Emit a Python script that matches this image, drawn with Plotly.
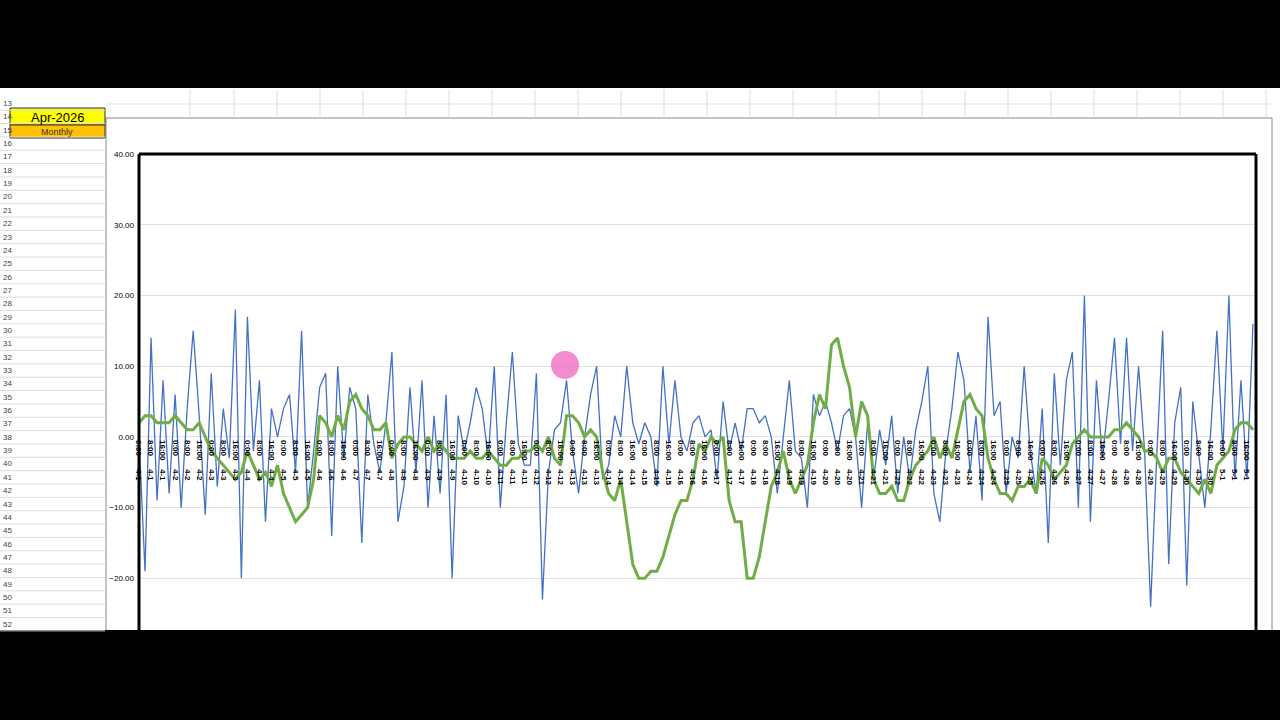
import plotly.graph_objects as go

days = [f"4-{d}" for d in range(1, 31)] + ["5-1"]
blue_by_day = [
 [0,-19,14,-9,8,-8],[6,-10,4,15,3,-11],[9,-7,4,-3,18,-20],[17,-2,8,-12,4,0],
 [4,6,-5,15,-10,-2],[7,9,-14,10,-3,7],[4,-15,6,-1,-5,2],[12,-12,-7,7,-5,8],
 [-10,3,-8,6,-20,3],[-2,2,7,4,-3,10],[-10,2,12,-1,-4,-4],[9,-23,-5,1,2,8],
 [-2,-8,0,6,10,-6],[-4,3,0,10,2,-1],[2,0,-7,10,-1,8],[0,-2,2,3,0,1],
 [-6,5,-2,2,-2,4],[4,2,3,0,-8,0],[8,-2,-3,-10,6,3],[5,2,-2,3,4,0],
 [-10,2,-6,1,-4,3],[-8,0,-6,1,5,10],[-8,-12,-2,4,12,8],[-5,3,-9,17,3,5],
 [-8,0,-3,10,-2,-8],[4,-15,9,-4,8,12],[-10,20,-12,8,-3,5],[14,-1,14,-2,10,-2],
 [-24,-3,15,-18,2,7],[-21,5,-3,-10,1,15],[-2,20,-6,8,-6,16]]
green_by_day = [
 [2,3,3,2,2,2],[3,2,1,1,2,0],[-2,-3,-4,-5,-6,-5],[-2,-4,-6,-5,-7,-4],
 [-8,-10,-12,-11,-10,-6],[3,2,0,3,1,5],[6,4,3,1,1,2],[-3,-1,0,0,-1,-2],
 [0,-2,-1,-2,-3,-3],[-3,-2,-3,-3,-2,-3],[-4,-4,-3,-3,-2,-2],[-1,-2,0,-3,-4,3],
 [3,2,0,1,0,-5],[-8,-9,-6,-12,-18,-20],[-20,-19,-19,-17,-14,-11],[-9,-9,-6,-1,-2,0],
 [-1,0,-9,-12,-12,-20],[-20,-17,-12,-7,-5,-2],[-6,-8,-6,-4,2,6],[4,13,14,10,7,0],
 [5,3,-6,-8,-8,-7],[-9,-9,-6,-4,-3,-2],[0,-3,-1,-3,1,5],[6,4,3,-3,-6,-8],
 [-8,-9,-7,-7,-6,-8],[-3,-4,-6,-5,-4,-1],[0,1,0,0,0,0],[1,1,2,1,0,-2],
 [-2,-3,-5,-3,-3,-5],[-6,-7,-8,-6,-8,-4],[-3,-2,1,2,2,1]]
hours_of_day = ["0:00", "8:00", "16:00"]

blue = [v for d in blue_by_day for v in d]
green = [v for d in green_by_day for v in d]
hrs = [4 * i for i in range(len(blue))]
tickvals = [24 * i + 8 * j for i in range(len(days)) for j in range(3)]
time_text = [hours_of_day[j] for i in range(len(days)) for j in range(3)]
date_text = [days[i] for i in range(len(days)) for j in range(3)]

W, H = 1280, 720
L, R, T, B = 139, 1256, 154, 630
px = lambda x: (x - L) / (R - L)
py = lambda y: (B - y) / (B - T)

fig = go.Figure()
fig.add_trace(go.Scatter(x=hrs, y=blue, mode="lines", line=dict(color="#4472C4", width=1.3)))
fig.add_trace(go.Scatter(x=hrs, y=green, mode="lines", line=dict(color="#70AD47", width=3)))
fig.add_trace(go.Scatter(x=[tickvals[0]], y=[None], xaxis="x2", showlegend=False, hoverinfo="skip"))

shapes = [
    dict(type="rect", xref="paper", yref="paper", x0=px(0), x1=px(W), y0=py(0), y1=py(88), fillcolor="black", line_width=0, layer="above"),
    dict(type="rect", xref="paper", yref="paper", x0=px(0), x1=px(W), y0=py(630), y1=py(720), fillcolor="black", line_width=0, layer="above"),
    dict(type="line", xref="paper", yref="paper", x0=px(106), x1=px(106), y0=py(630), y1=py(118), line=dict(color="#888", width=1)),
    dict(type="line", xref="paper", yref="paper", x0=px(106), x1=px(1272), y0=py(118), y1=py(118), line=dict(color="#888", width=1)),
    dict(type="line", xref="paper", yref="paper", x0=px(1272), x1=px(1272), y0=py(630), y1=py(118), line=dict(color="#888", width=1)),
    dict(type="line", xref="paper", yref="paper", x0=0, x1=0, y0=0, y1=1, line=dict(color="black", width=3)),
    dict(type="line", xref="paper", yref="paper", x0=1, x1=1, y0=0, y1=1, line=dict(color="black", width=3)),
    dict(type="line", xref="paper", yref="paper", x0=0, x1=1, y0=1, y1=1, line=dict(color="black", width=3)),
    dict(type="rect", xref="paper", yref="paper", x0=px(10), x1=px(105), y0=py(125), y1=py(108), fillcolor="#FFFF00", line=dict(color="#333", width=1)),
    dict(type="rect", xref="paper", yref="paper", x0=px(10), x1=px(105), y0=py(138), y1=py(125), fillcolor="#FFC000", line=dict(color="#333", width=1)),
    dict(type="circle", xref="paper", yref="paper", x0=px(551), x1=px(579), y0=py(351), y1=py(379), fillcolor="rgba(240,100,190,0.75)", line_width=0),
]
ann = [
    dict(x=px(57), y=py(117), xref="paper", yref="paper", xanchor="center", yanchor="middle", text="Apr-2026", showarrow=False, font=dict(size=13, color="black")),
    dict(x=px(57), y=py(132), xref="paper", yref="paper", xanchor="center", yanchor="middle", text="Monthly", showarrow=False, font=dict(size=9, color="#333")),
]
for r in range(13, 53):
    yy = 103.5 + (r - 13) * 13.35
    ann.append(dict(x=px(1), y=py(yy), xref="paper", yref="paper", xanchor="left", yanchor="middle", text=str(r), showarrow=False, font=dict(size=8, color="#444")))
    shapes.append(dict(type="line", xref="paper", yref="paper", x0=px(0), x1=px(105), y0=py(yy + 6.7), y1=py(yy + 6.7), line=dict(color="#ddd", width=1)))
shapes.append(dict(type="line", xref="paper", yref="paper", x0=px(106), x1=px(1272), y0=py(104), y1=py(104), line=dict(color="#ddd", width=1)))
for cx in [190, 234, 277, 320, 363, 406, 449, 492, 535, 578, 621, 664, 707, 750, 793, 836, 879, 922, 965, 1008, 1051, 1094, 1137, 1180, 1223, 1266]:
    shapes.append(dict(type="line", xref="paper", yref="paper", x0=px(cx), x1=px(cx), y0=py(117), y1=py(90), line=dict(color="#ddd", width=1)))

axis_common = dict(range=[0, 742], tickvals=tickvals, tickangle=90,
                   tickfont=dict(size=8, color="black", weight="bold"),
                   anchor="free", showgrid=False, zeroline=False, showline=False, ticks="")
fig.update_layout(
    width=W, height=H, margin=dict(l=L, r=W - R, t=T, b=H - B),
    paper_bgcolor="white", plot_bgcolor="white", showlegend=False,
    shapes=shapes, annotations=ann,
    font=dict(family="Liberation Sans", color="black"),
    xaxis=dict(axis_common, ticktext=time_text, position=py(439)),
    xaxis2=dict(axis_common, ticktext=date_text, position=py(468), overlaying="x"),
    yaxis=dict(range=[-27.3, 40], dtick=10, tickformat=".2f", tickfont=dict(size=8),
               gridcolor="#e0e0e0", zeroline=False, ticks="", ticklabelstandoff=4),
)
fig.write_html("out.html", config={"displayModeBar": False})
with open("out.html") as f:
    html = f.read()
html = html.replace("<body>", "<body style=\"margin:0;overflow:hidden\">", 1)
with open("out.html", "w") as f:
    f.write(html)
